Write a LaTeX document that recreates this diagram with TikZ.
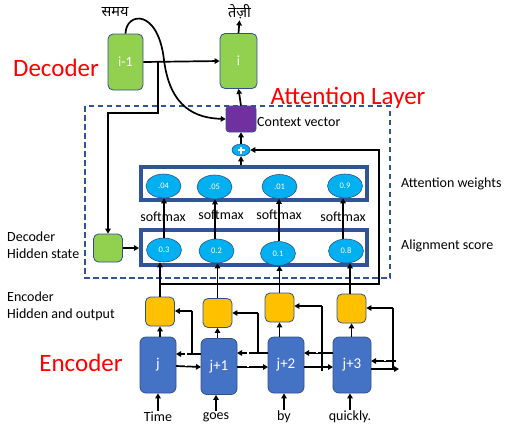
\documentclass[tikz,border=0pt]{standalone}
\usepackage{fontspec}
\setmainfont{Carlito}
\newfontfamily\deva[Script=Devanagari]{Noto Sans}
\usetikzlibrary{arrows.meta,shapes.geometric}
\definecolor{dgreen}{HTML}{92D050}
\definecolor{eblue}{HTML}{4472C4}
\definecolor{eyel}{HTML}{FFC000}
\definecolor{cpurp}{HTML}{7030A0}
\definecolor{cyanE}{HTML}{00B0F0}
\definecolor{bdr}{HTML}{2F528F}
\definecolor{boxb}{HTML}{2F5597}
\definecolor{ptred}{HTML}{FF0000}
\tikzset{
  fs/.style={font=\fontsize{#1}{#1}\selectfont},
  lbl/.style={fs=14, inner sep=1pt, text=black},
  title/.style={fs=25, text=ptred, inner sep=0pt},
  gbox/.style={draw=bdr, fill=dgreen, line width=0.8pt, rounded corners=5pt, text=white, fs=14},
  bbox/.style={draw=bdr, fill=eblue, line width=0.8pt, rounded corners=6pt, text=white, fs=15, minimum width=36pt, minimum height=56pt},
  ybox/.style={draw=bdr, fill=eyel, line width=0.8pt, rounded corners=5pt, minimum width=29pt, minimum height=29pt},
  ell/.style={ellipse, draw=bdr, fill=cyanE, line width=0.6pt, text=white, fs=8.5, inner sep=0pt, minimum width=35pt, minimum height=24pt},
  bigbox/.style={draw=boxb, line width=4pt, minimum width=226pt},
  conn/.style={line width=1.7pt, black},
  arr/.style={conn, -{Triangle[length=5pt,width=5.5pt]}},
  dbl/.style={draw=black, double=white, double distance=1.1pt, line width=0.75pt},
}
\begin{document}
\begin{tikzpicture}[x=1pt,y=-1pt]
\useasboundingbox (0,0) rectangle (511,426);
% attention layer frame
\draw[boxb, line width=1.5pt, dash pattern=on 5.5pt off 3.5pt] (85,106) rectangle (390,278);
% titles
\node[title] (tdec) at (56,68) {Decoder};
\node[title] (tatt) at (348,98) {Attention Layer};
\node[title] (tenc) at (81,363) {Encoder};
% decoder
\node[gbox, minimum width=35pt, minimum height=56pt] (dprev) at (125.5,62) {i-1};
\node[gbox, minimum width=37pt, minimum height=55pt] (dcur) at (238.5,61) {i};
\node[fs=14.5, inner sep=1pt] (wprev) at (115,12) {\deva समय};
\node[fs=14.5, inner sep=1pt] (wcur) at (239.5,12) {\deva तेज़ी};
% context
\node[draw=bdr, fill=cpurp, line width=0.6pt, rounded corners=3pt, minimum width=30pt, minimum height=26pt] (ctx) at (241,119) {};
\node[lbl, anchor=west] (ctxl) at (256,122) {Context vector};
\node[ellipse, draw=bdr, fill=cyanE, line width=0.6pt, minimum width=18pt, minimum height=12pt, inner sep=0pt] (plus) at (241,150) {};
\draw[white, line width=1.4pt] ([xshift=-3.5pt]plus.center) -- ([xshift=3.5pt]plus.center);
\draw[white, line width=1.4pt] ([yshift=-3.5pt]plus.center) -- ([yshift=3.5pt]plus.center);
% boxes
\node[bigbox, minimum height=33pt] (wbox) at (254,183.5) {};
\node[bigbox, minimum height=35pt] (sbox) at (254,247.5) {};
\node[ell] (w1) at (163.5,186) {.04};
\node[ell] (w2) at (214.5,187) {.05};
\node[ell] (w3) at (279.5,186.5) {.01};
\node[ell] (w4) at (345,186) {0.9};
\node[ell] (s1) at (164,250) {0.3};
\node[ell] (s2) at (216.5,251) {0.2};
\node[ell] (s3) at (278,253.5) {0.1};
\node[ell] (s4) at (346,251) {0.8};
\node[lbl, anchor=west] (lw) at (400,184) {Attention weights};
\node[lbl, anchor=west] (ls) at (400,246) {Alignment score};
% decoder hidden state
\node[gbox, minimum width=29pt, minimum height=28pt] (dhid) at (108,248) {};
\node[lbl, anchor=west, align=left, font=\fontsize{14}{17}\selectfont] (ldh) at (6,245) {Decoder\\Hidden state};
\node[lbl, anchor=west, align=left, font=\fontsize{14}{17}\selectfont] (leh) at (6,306) {Encoder\\Hidden and output};
% encoder
\node[ybox] (y1) at (160,311.5) {};
\node[ybox] (y2) at (217.5,313) {};
\node[ybox] (y3) at (279.5,307.5) {};
\node[ybox] (y4) at (351.5,308.5) {};
\node[bbox] (b1) at (158,365) {j};
\node[bbox] (b2) at (219,366.5) {j+1};
\node[bbox] (b3) at (286,365) {j+2};
\node[bbox, minimum width=38pt] (b4) at (352,365) {j+3};
\node[lbl] (t1) at (158,417) {Time};
\node[lbl] (t2) at (216,417) {goes};
\node[lbl] (t3) at (284,417) {by};
\node[lbl] (t4) at (350,417) {quickly.};
% ---- connectors: decoder
\draw[arr] (dcur.north) -- (wcur.south);
\draw[arr] (dprev.east) -- (dcur.west);
\coordinate (tap) at (158,61);
\coordinate (bend) at (108,113);
\draw[arr] (tap) |- (bend) -- (dhid.north);
\draw[arr] (dprev.north) .. controls (126,12) and (158,8) .. (164,60) .. controls (170,108) and (196,118) .. (ctx.west);
\draw[arr] (ctx.north) -- (dcur.south);
\draw[arr] (plus.north) -- (ctx.south);
\draw[arr] (wbox.north -| plus) -- (plus.south);
\draw[arr] (dhid.east) -- (dhid.east -| sbox.west);
% score -> weights (softmax)
\draw[arr] (s1.north) -- (s1.north |- w1.south);
\draw[arr] (s2.north -| 215,0) -- (w2.south -| 215,0);
\draw[arr] (s3.north -| 279,0) -- (w3.south -| 279,0);
\draw[arr] (s4.north -| 343,0) -- (w4.south -| 343,0);
\node[lbl] (sm1) at (163,217) {softmax};
\node[lbl] (sm2) at (221,215) {softmax};
\node[lbl] (sm3) at (279,215) {softmax};
\node[lbl] (sm4) at (343,217) {softmax};
% encoder outputs to scores and bus
\coordinate (busR) at (379,284);
\draw[arr] (y1.north) |- (busR) |- (plus.east);
\draw[arr] (y1.north) -- (y1.north |- s1.south);
\draw[arr] (y2.north) -- (y2.north |- s2.south);
\draw[arr] (y3.north) -- (y3.north |- s3.south);
\draw[arr] ([xshift=-1.5pt]y4.north) -- ([xshift=-1.5pt]y4.north |- s4.south);
% inputs
\draw[arr] (t1.north) -- (t1.north |- b1.south);
\draw[arr] (t2.north) -- (t2.north |- b2.south);
\draw[arr] (t3.north) -- (t3.north |- b3.south);
\draw[arr] (t4.north) -- (t4.north |- b4.south);
% blue -> yellow
\draw[arr] (b1.north -| y1) -- (y1.south);
\draw[arr] (b2.north -| y2) -- (y2.south);
\draw[arr] (b3.north -| y3) -- (y3.south);
\draw[arr] (b4.north -| y4) -- (y4.south);
% forward / backward recurrences
\coordinate (f1a) at (176,366); \coordinate (f1b) at (201,367);
\coordinate (f2a) at (237,367); \coordinate (f2b) at (268,367);
\coordinate (f3a) at (304,367); \coordinate (f3b) at (333,367);
\coordinate (f4a) at (371,369); \coordinate (f4b) at (399,369);
\draw[arr] (f1a) -- (f1b);
\draw[arr] (f2a) -- (f2b);
\draw[arr] (f3a) -- (f3b);
\draw[arr] (f4a) -- (f4b);
\coordinate (r1a) at (201,354); \coordinate (r1b) at (176,354);
\coordinate (r2a) at (268,353); \coordinate (r2b) at (237,353);
\coordinate (r3a) at (333,353); \coordinate (r3b) at (304,353);
\coordinate (r4a) at (396,361); \coordinate (r4b) at (371,361);
\draw[arr] (r1a) -- (r1b);
\draw[arr] (r2a) -- (r2b);
\draw[arr] (r3a) -- (r3b);
\draw[arr] (r4a) -- (r4b);
% taps up into yellow boxes
\draw[dbl] (186,311) -- (186,366);
\draw[conn] (192,354) -- (192,311);
\draw[arr] (192,311) -- (y1.east |- 0,311);
\draw[dbl] (248,313) -- (248,367);
\draw[conn] (258,353) -- (258,313);
\draw[arr] (258,313) -- (y2.east |- 0,313);
\draw[dbl] (317,306) -- (317,353);
\draw[conn] (322,371) -- (322,306);
\draw[arr] (322,306) -- (y3.east |- 0,306);
\draw[dbl] (385,308) -- (385,361);
\draw[conn] (393,370) -- (393,308);
\draw[arr] (393,308) -- (y4.east |- 0,308);
\end{tikzpicture}
\end{document}
